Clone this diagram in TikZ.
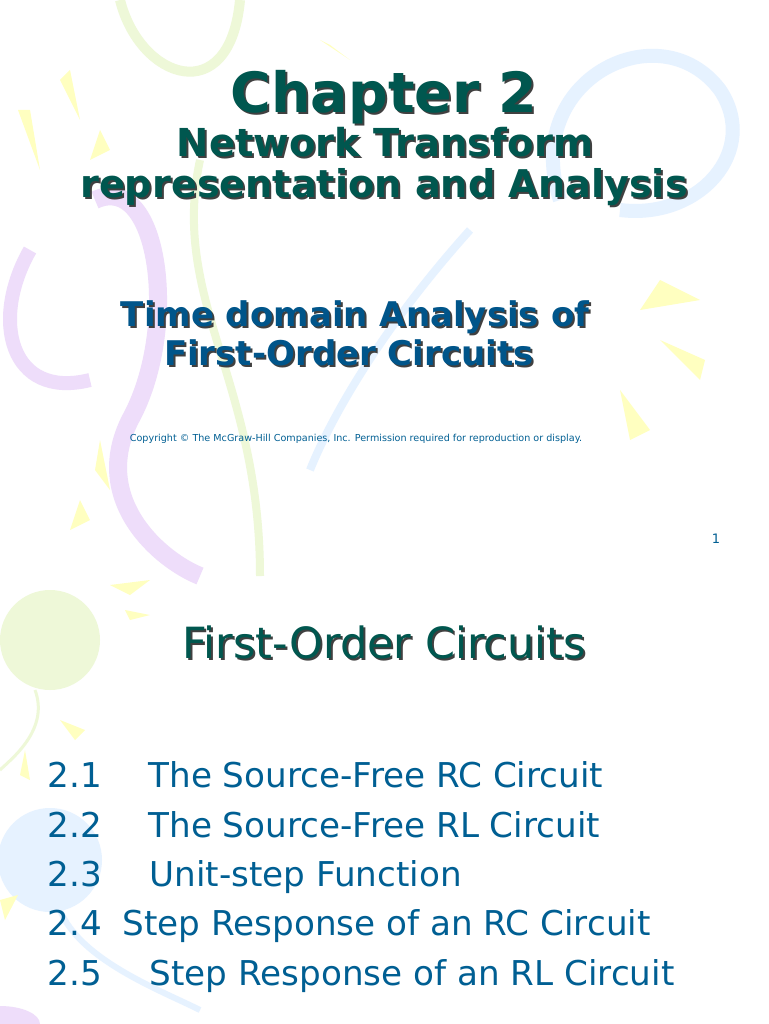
\documentclass[tikz,border=0pt]{standalone}
\usepackage{fontspec}
\setmainfont{DejaVu Sans}
\definecolor{ttl}{HTML}{00574F}
\definecolor{sub}{HTML}{00558A}
\definecolor{lst}{HTML}{005F93}
\definecolor{yel}{HTML}{FFFFC0}
\definecolor{pur}{HTML}{EEDDFA}
\definecolor{grn}{HTML}{EEF8D8}
\definecolor{blu}{HTML}{E6F2FF}
\tikzset{
 shd/.style={text=black!75, anchor=base},
 ttlt/.style={text=ttl, anchor=base},
 subt/.style={text=sub, anchor=base},
 lstt/.style={text=lst, anchor=base west, font=\fontsize{34.2}{38}\selectfont},
 tri/.style={fill=yel, draw=none},
}
\begin{document}
\begin{tikzpicture}[x=1pt,y=-1pt]
\useasboundingbox (0,0) rectangle (768,1024);
\fill[white] (0,0) rectangle (768,1024);
% background slide 1
\draw[pur, line width=18pt] (95,200) .. controls (160,170) and (180,330) .. (130,420) .. controls (90,500) and (160,560) .. (200,576);
\draw[pur, line width=14pt] (30,250) .. controls (-10,320) and (10,400) .. (90,380);
\draw[grn, line width=10pt] (120,0) .. controls (140,80) and (230,110) .. (240,0);
\draw[grn, line width=8pt] (200,160) .. controls (170,300) and (260,380) .. (260,576);
\draw[blu, line width=14pt] (560,200) .. controls (520,80) and (660,10) .. (720,90) .. controls (760,150) and (700,220) .. (620,210);
\draw[blu, line width=8pt] (470,230) .. controls (380,330) and (330,420) .. (310,470);
\fill[tri] (70,70) -- (80,120) -- (60,80) -- cycle;
\fill[tri] (18,110) -- (40,170) -- (30,110) -- cycle;
\fill[tri] (100,130) -- (110,150) -- (90,160) -- cycle;
\fill[tri] (320,40) -- (350,60) -- (330,45) -- cycle;
\fill[tri] (660,280) -- (700,300) -- (640,310) -- cycle;
\fill[tri] (620,390) -- (650,430) -- (630,440) -- cycle;
\fill[tri] (660,340) -- (705,360) -- (700,380) -- cycle;
\fill[tri] (100,440) -- (110,490) -- (95,470) -- cycle;
\fill[tri] (80,500) -- (90,520) -- (70,530) -- cycle;
% background slide 2
\fill[grn] (50,640) circle (50);
\draw[grn, line width=3pt] (35,690) .. controls (50,730) and (10,760) .. (0,770);
\fill[blu] (50,860) circle (52);
\draw[blu, line width=6pt] (60,910) .. controls (80,960) and (160,990) .. (200,1010);
\fill[pur] (0,1024) ellipse (40 and 18);
\fill[tri] (110,585) -- (150,580) -- (130,595) -- cycle;
\fill[tri] (125,610) -- (150,615) -- (130,620) -- cycle;
\fill[tri] (60,720) -- (85,730) -- (75,740) -- cycle;
\fill[tri] (25,750) -- (30,780) -- (20,775) -- cycle;
\fill[tri] (0,900) -- (18,895) -- (5,920) -- cycle;
% slide 1 text
\node[shd, font=\bfseries\fontsize{55.5}{60}\selectfont] (c2s) at (386,115) {Chapter 2};
\node[ttlt, font=\bfseries\fontsize{55.5}{60}\selectfont] (c2) at (384,113) {Chapter 2};
\node[shd, font=\bfseries\fontsize{38.5}{42}\selectfont] (nts) at (387,159) {Network Transform};
\node[ttlt, font=\bfseries\fontsize{38.5}{42}\selectfont] (nt) at (385,157) {Network Transform};
\node[shd, font=\bfseries\fontsize{38.2}{42}\selectfont] (ras) at (386,200) {representation and Analysis};
\node[ttlt, font=\bfseries\fontsize{38.2}{42}\selectfont] (ra) at (384,198) {representation and Analysis};
\node[shd, font=\bfseries\fontsize{34}{37}\selectfont] (tds) at (357,328) {Time domain Analysis of};
\node[subt, font=\bfseries\fontsize{34}{37}\selectfont] (td) at (355,326) {Time domain Analysis of};
\node[shd, font=\bfseries\fontsize{34}{37}\selectfont] (focs) at (351,367) {First-Order Circuits};
\node[subt, font=\bfseries\fontsize{34}{37}\selectfont] (foc) at (349,365) {First-Order Circuits};
\node[text=lst, anchor=base, font=\fontsize{9.6}{11}\selectfont] (cp) at (356,441) {Copyright © The McGraw-Hill Companies, Inc. Permission required for reproduction or display.};
\node[text=lst, anchor=base, font=\fontsize{13}{15}\selectfont] (pg) at (716,543) {1};
% slide 2 text
\node[shd, font=\fontsize{43}{46}\selectfont] (fo2s) at (386,660) {First-Order Circuits};
\node[ttlt, font=\fontsize{43}{46}\selectfont] (fo2) at (384,658) {First-Order Circuits};
\node[lstt] (n1) at (44,787) {2.1};
\node[lstt] (t1) at (145,787) {The Source-Free RC Circuit};
\node[lstt] (n2) at (44,837) {2.2};
\node[lstt] (t2) at (145,837) {The Source-Free RL Circuit};
\node[lstt] (n3) at (44,886) {2.3};
\node[lstt] (t3) at (146,886) {Unit-step Function};
\node[lstt] (n4) at (44,935) {2.4};
\node[lstt] (t4) at (119,935) {Step Response of an RC Circuit};
\node[lstt] (n5) at (44,985) {2.5};
\node[lstt] (t5) at (146,985) {Step Response of an RL Circuit};
\end{tikzpicture}
\end{document}
